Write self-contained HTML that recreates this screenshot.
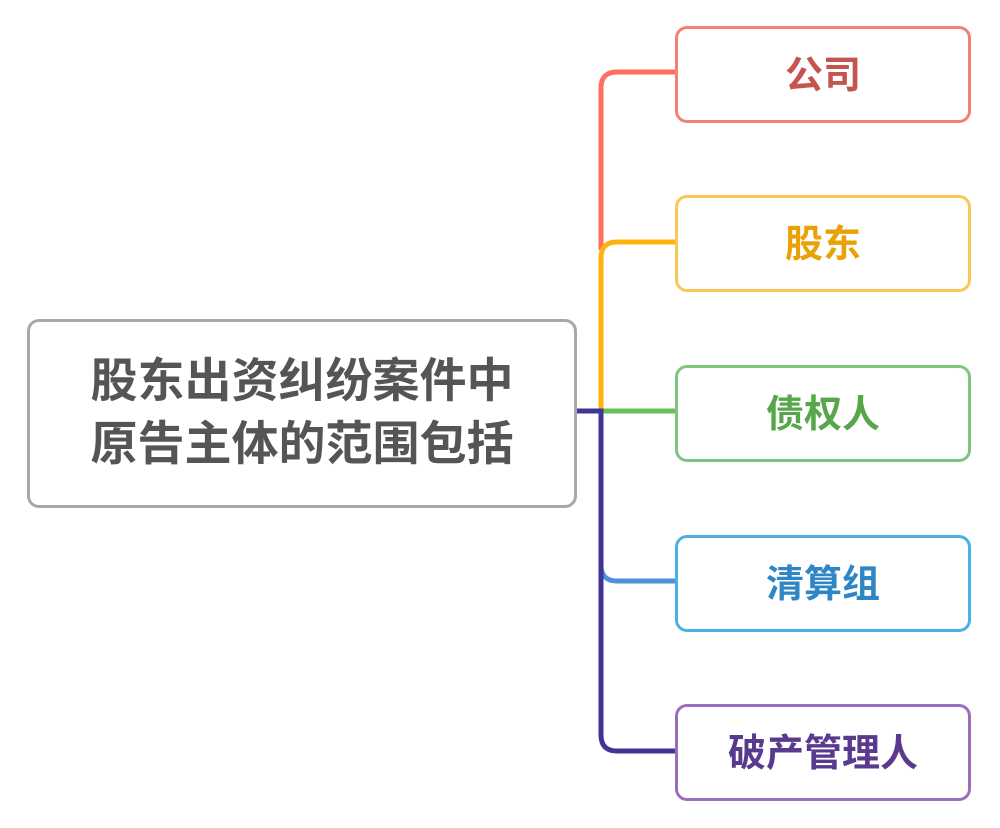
<!DOCTYPE html><html><head><meta charset="utf-8"><style>
body{margin:0;background:#fff;width:1000px;height:828px;position:relative;overflow:hidden;font-family:"Liberation Sans","Noto Sans CJK SC",sans-serif}
.b{position:absolute;box-sizing:border-box;border:3px solid;border-radius:12px;background:#fff;display:flex;align-items:center;justify-content:center;font-weight:bold;text-align:center}
.c{left:675px;width:296px;height:97px;font-size:38px;padding-bottom:6px}
</style></head><body>
<svg width="1000" height="828" style="position:absolute;left:0;top:0" fill="none" stroke-width="5">
<path d="M601 250 V88 Q601 72 617 72 H676" stroke="#ff6e5f"/>
<path d="M601 411 V258 Q601 242 617 242 H676" stroke="#ffb10d"/>
<path d="M601 411 H676" stroke="#6bbf58"/>
<path d="M601 565 Q601 581 617 581 H676" stroke="#4f8fdb"/>
<path d="M576 411 H601 V735 Q601 751 617 751 H676" stroke="#3f3594"/>
</svg>
<div class="b" style="left:27px;top:319px;width:550px;height:189px;border-color:#a8a8a8;color:#555;font-size:47px;line-height:63px;padding-bottom:4px">股东出资纠纷案件中<br>原告主体的范围包括</div>
<div class="b c" style="top:26px;border-color:#f57f75;color:#c4554e">公司</div>
<div class="b c" style="top:195px;border-color:#fbc557;color:#e9a106">股东</div>
<div class="b c" style="top:365px;border-color:#80c57f;color:#58a64b">债权人</div>
<div class="b c" style="top:535px;border-color:#4ab1e1;color:#2f86c5">清算组</div>
<div class="b c" style="top:704px;border-color:#9a6ebc;color:#5a3a8e">破产管理人</div>
</body></html>
